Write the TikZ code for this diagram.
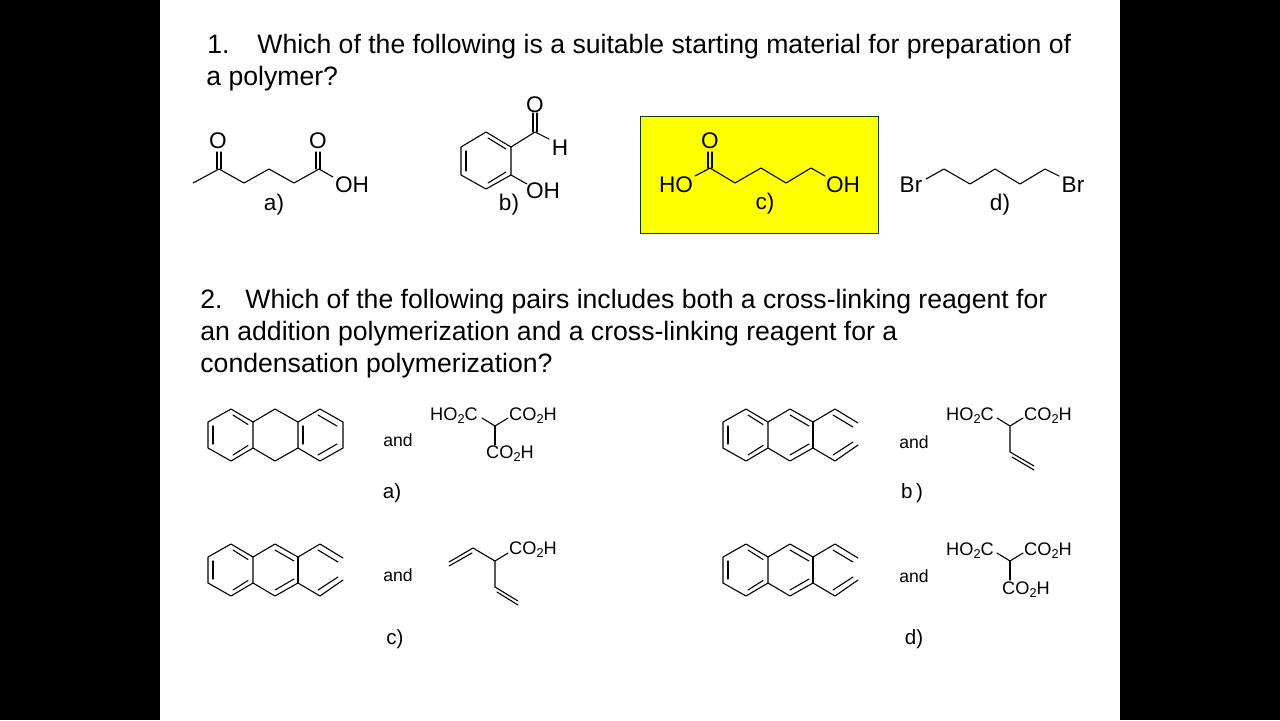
\documentclass[tikz,border=0pt]{standalone}
\usepackage{fontspec}
\setmainfont{Liberation Sans}
\definecolor{hilite}{RGB}{255,255,0}
\definecolor{hiliteedge}{RGB}{20,60,20}
\newcommand{\subtwo}{\raisebox{-1.6pt}{\fontsize{6.4}{6.4}\selectfont 2}}
\newcommand{\cooh}{CO\subtwo H}
\newcommand{\hooc}{HO\subtwo C}
\tikzset{
  bond/.style={line width=0.55pt,line cap=round,line join=round,black},
  qtext/.style={anchor=base west,inner sep=0pt,font=\fontsize{13.31}{16}\selectfont},
  atom/.style={inner sep=0pt,font=\fontsize{11.3}{13}\selectfont},
  smallatom/.style={inner sep=0pt,font=\fontsize{9.1}{11}\selectfont},
  choice/.style={inner sep=0pt,font=\fontsize{11.3}{13}\selectfont},
  smallchoice/.style={inner sep=0pt,font=\fontsize{10.3}{12}\selectfont},
  andtext/.style={inner sep=0pt,font=\fontsize{8.8}{11}\selectfont},
}
% left benzene ring, common to all four polycyclic structures
\newcommand{\leftring}{%
  \draw[bond] (231,409)--(253,422)--(253,448)--(231,461)--(208,448)--(208,422)--cycle;
  \draw[bond] (233,415)--(248,424.5);
  \draw[bond] (213,426)--(213,444);
  \draw[bond] (233,455)--(248,445.5);
}
% dihydro-ring form
\newcommand{\dvb}{%
  \leftring
  \draw[bond] (253,422)--(275,409)--(298,422);
  \draw[bond] (253,448)--(275,461)--(298,448);
  \draw[bond] (298,422)--(320,409)--(343,422)--(343,448)--(320,461)--(298,448)--cycle;
  \draw[bond] (318,415)--(337,426);
  \draw[bond] (318,455)--(337,444);
  \draw[bond] (303,426)--(303,444);
}
% open vinyl form
\newcommand{\vinylform}{%
  \leftring
  \draw[bond] (253,422)--(275,409)--(298,422)--(320,409)--(343,423);
  \draw[bond] (253,448)--(275,461)--(298,448)--(320,461)--(343,445);
  \draw[bond] (298,422)--(298,448);
  \draw[bond] (275,415)--(294,426);
  \draw[bond] (275,455)--(294,444);
  \draw[bond] (318,415)--(338,427);
  \draw[bond] (318,455)--(338,442);
}
\begin{document}
\begin{tikzpicture}[x=0.5pt,y=-0.5pt]
\useasboundingbox (0,0) rectangle (1280,720);
\fill[white] (0,0) rectangle (1280,720);
\fill[black] (0,0) rectangle (160,720);
\fill[black] (1120,0) rectangle (1280,720);

% questions
\node[qtext] (q1n) at (207,53) {1.};
\node[qtext] (q1a) at (257,53) {Which of the following is a suitable starting material for preparation of};
\node[qtext] (q1b) at (206,85) {a polymer?};
\node[qtext] (q2n) at (200,308) {2.};
\node[qtext] (q2a) at (245,308) {Which of the following pairs includes both a cross-linking reagent for};
\node[qtext] (q2b) at (200,340) {an addition polymerization and a cross-linking reagent for a};
\node[qtext] (q2c) at (200,372) {condensation polymerization?};

% highlight
\draw[fill=hilite,draw=hiliteedge,line width=0.5pt] (640.5,116.5) rectangle (878.5,233);

% 1a
\draw[bond] (193,183)--(219,169)--(244,183)--(269,169)--(294,183)--(319,169)--(333,177);
\draw[bond] (217,152)--(217,169);
\draw[bond] (221,152)--(221,169);
\draw[bond] (316,152)--(316,169);
\draw[bond] (320,152)--(320,169);
\node[atom] (a1o) at (218,141) {O};
\node[atom] (a2o) at (318,141) {O};
\node[atom] (aoh) at (352,185) {OH};
\node[choice] (la) at (274,205) {a)};

% 1b
\draw[bond] (486,132)--(511,147)--(511,175)--(486,189)--(461,175)--(461,147)--cycle;
\draw[bond] (488,138)--(506,149);
\draw[bond] (488,183)--(506,172);
\draw[bond] (466,151)--(466,171);
\draw[bond] (511,147)--(535,132)--(549,139);
\draw[bond] (533,113)--(533,132);
\draw[bond] (537,113)--(537,132);
\draw[bond] (511,175)--(527,184);
\node[atom] (bo) at (535,105) {O};
\node[atom] (bh) at (560,148) {H};
\node[atom] (boh) at (543,191) {OH};
\node[choice] (lb) at (509,205) {b)};

% 1c
\draw[bond] (695,176)--(710,168)--(735,183)--(761,168)--(786,183)--(811,168)--(825,176);
\draw[bond] (708,152)--(708,168);
\draw[bond] (712,152)--(712,168);
\node[atom] (co) at (710,141) {O};
\node[atom] (cho) at (676,185) {HO};
\node[atom] (coh) at (843,185) {OH};
\node[choice] (lc) at (765,204) {c)};

% 1d
\draw[bond] (926,179)--(944,169)--(970,184)--(995,169)--(1020,184)--(1045,169)--(1059,176);
\node[atom] (dbr1) at (911,185) {Br};
\node[atom] (dbr2) at (1073,185) {Br};
\node[choice] (ld) at (1000,205) {d)};

% 2a
\dvb
\draw[bond] (482,418)--(495,426)--(508,418);
\draw[bond] (495,426)--(495,445);
\node[smallatom] (a1) at (454,416) {\hooc};
\node[smallatom] (a2) at (533,416) {\cooh};
\node[smallatom] (a3) at (510,454) {\cooh};
\node[andtext] (aand) at (398,440) {and};
\node[smallchoice] (l2a) at (392,493) {a)};

% 2b
\begin{scope}[shift={(515,0)}]
\vinylform
\end{scope}
\draw[bond] (997,418)--(1010,426)--(1023,418);
\draw[bond] (1010,426)--(1010,452)--(1034,466);
\draw[bond] (1012,457)--(1034,470);
\node[smallatom] (b1) at (970,416) {\hooc};
\node[smallatom] (b2) at (1048,416) {\cooh};
\node[andtext] (band) at (914,442) {and};
\node[smallchoice] (l2b) at (912,493) {b\,)};

% 2c
\begin{scope}[shift={(0,135)}]
\vinylform
\end{scope}
\draw[bond] (449,562)--(473,548)--(495,561)--(508,553);
\draw[bond] (449,566)--(472,553);
\draw[bond] (495,561)--(495,587)--(518,601);
\draw[bond] (497,592)--(518,605);
\node[smallatom] (c2) at (533,550) {\cooh};
\node[andtext] (cand) at (398,575) {and};
\node[smallchoice] (l2c) at (395,639) {c)};

% 2d
\begin{scope}[shift={(515,135)}]
\vinylform
\end{scope}
\draw[bond] (997,553)--(1010,561)--(1023,553);
\draw[bond] (1010,561)--(1010,580);
\node[smallatom] (d1) at (970,551) {\hooc};
\node[smallatom] (d2) at (1048,551) {\cooh};
\node[smallatom] (d3) at (1026,590) {\cooh};
\node[andtext] (dand) at (914,576) {and};
\node[smallchoice] (l2d) at (914,639) {d)};
\end{tikzpicture}
\end{document}
